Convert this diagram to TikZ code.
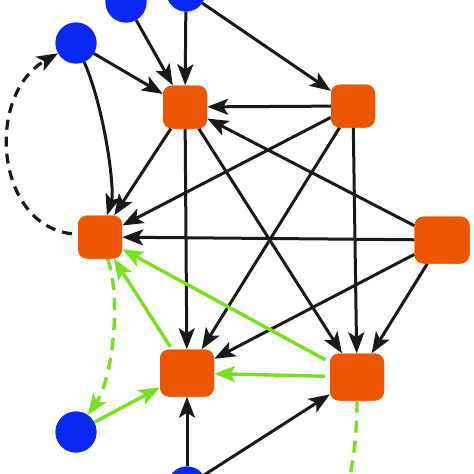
\documentclass[tikz,border=0pt]{standalone}
\usetikzlibrary{arrows.meta}
\definecolor{nblue}{RGB}{10,40,240}
\definecolor{norange}{RGB}{236,86,0}
\definecolor{ngreen}{RGB}{118,226,30}
\begin{document}
\begin{tikzpicture}[x=1pt,y=-1pt,
 circ/.style={circle,fill=nblue,minimum size=41pt,inner sep=0pt},
 sq/.style={rounded corners=9pt,fill=norange,minimum width=44pt,minimum height=43pt,inner sep=0pt},
 bigsq/.style={sq,minimum width=54pt,minimum height=47pt},
 blk/.style={draw=black!90,line width=3pt,-{Stealth[length=21pt,width=16pt,inset=5pt]}},
 grn/.style={draw=ngreen,line width=3.4pt,-{Stealth[length=21pt,width=16pt,inset=5pt]}},
 bdash/.style={blk,line width=3.2pt,dash pattern=on 10pt off 7pt},
 gdash/.style={grn,dash pattern=on 12pt off 8pt},
]
\useasboundingbox (0,0) rectangle (474,474);
\clip (0,0) rectangle (474,474);
% nodes
\node[circ] (B1) at (76,43) {};
\node[circ] (B2) at (126,2) {};
\node[circ,minimum size=39pt] (B3) at (186,-8) {};
\node[circ] (B4) at (76,432) {};
\node[circ,minimum size=39pt] (B5) at (187,486) {};
\node[sq] (S1) at (185,107) {};
\node[sq] (S2) at (353,106) {};
\node[sq] (S3) at (100,237) {};
\node[bigsq,minimum width=55pt] (S4) at (442,240) {};
\node[bigsq] (S5) at (187,373) {};
\node[bigsq] (S6) at (357,377) {};
\coordinate (E) at (345,500);
% black edges
\draw[blk] (B1) -- (S1);
\draw[blk] (B2) -- (S1);
\draw[blk] (B3) -- (S1);
\draw[blk] (B3) -- (S2);
\draw[blk] (B1) .. controls (105,110) and (115,190) .. (S3);
\draw[blk] (S2) -- (S1);
\draw[blk] (S4) -- (S1);
\draw[blk] (S1) -- (S3);
\draw[blk] (S2) -- (S3);
\draw[blk] (S4) -- (S3);
\draw[blk] (S1) -- (S5);
\draw[blk] (S1) -- (S6);
\draw[blk] (S2) -- (S5);
\draw[blk] (S2) -- (S6);
\draw[blk] (S4) -- (S5);
\draw[blk] (S4) -- (S6);
\draw[blk] (B5) -- (S5);
\draw[blk] (B5) -- (S6);
\draw[bdash,shorten <=6pt] (S3) .. controls (-5,225) and (-15,95) .. (B1);
% green edges
\draw[grn,shorten <=3pt] (S5) -- (S3);
\draw[grn,shorten <=5pt] (S6) -- (S3);
\draw[grn,shorten <=5pt] (S6) -- (S5);
\draw[grn] (B4) -- (S5);
\draw[gdash] (S3) .. controls (122,300) and (112,380) .. (B4);
\draw[gdash,-] (S6) .. controls (357,440) and (352,470) .. (E);
% redraw nodes on top
\node[circ] at (B1) {};
\node[circ] at (B2) {};
\node[circ,minimum size=39pt] at (B3) {};
\node[circ] at (B4) {};
\node[circ,minimum size=39pt] at (B5) {};
\node[sq] at (S1) {};
\node[sq] at (S2) {};
\node[sq] at (S3) {};
\node[bigsq,minimum width=55pt] at (S4) {};
\node[bigsq] at (S5) {};
\node[bigsq] at (S6) {};
\end{tikzpicture}
\end{document}
